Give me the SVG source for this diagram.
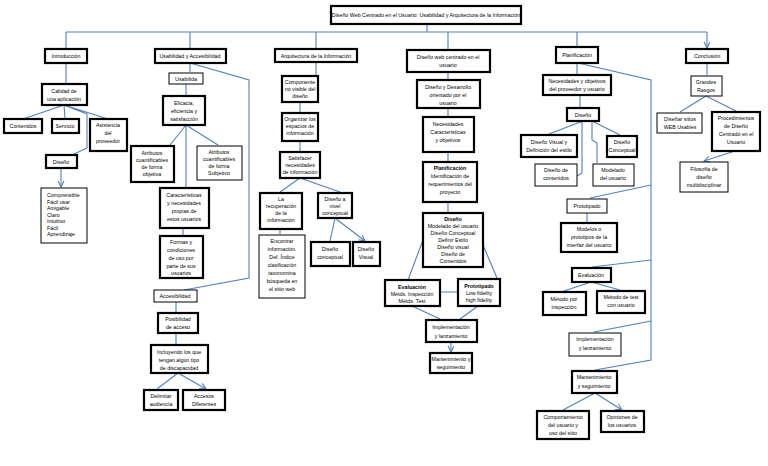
<svg xmlns="http://www.w3.org/2000/svg" width="768" height="466" viewBox="0 0 768 466">
<style>
.n{fill:#fff;stroke:#000;stroke-width:1}
.k{fill:#fff;stroke:#000;stroke-width:2.2}
text{font-family:"Liberation Sans",Arial,sans-serif;font-size:5.3px;fill:#000;text-anchor:middle}
.b{font-weight:bold}
.lf{text-anchor:start}
#c path{fill:none;stroke:#4f81bd;stroke-width:1.1}
</style>
<defs><marker id="a" markerWidth="8" markerHeight="8" refX="7" refY="4" orient="auto" markerUnits="userSpaceOnUse"><path d="M1,1 L7,4 L1,7" fill="none" stroke="#4f81bd" stroke-width="1.1"/></marker></defs>
<rect width="768" height="466" fill="#fff"/>
<g id="c">
<path d="M427,24 V32 M66,32 H707"/>
<path marker-end="url(#a)" d="M66,32V48 M190,32V48 M316,32V48 M448,32V49 M577,32V46 M707,32V48"/>
<path marker-end="url(#a)" d="M66,63V83 M64,105L23,119 M64,105L65,118 M64,105L108,119 M64,105L87,114V148L72,155 M61,168V187"/>
<path marker-end="url(#a)" d="M190,63V72 M186,84V95 M186,125L170,145 M186,125V187 M186,125L218,145 M183,228V235 M190,63L249,80V278L184,290 M176,302V312 M176,333V344 M178,373L157,389 M178,373L206,389"/>
<path marker-end="url(#a)" d="M316,62V75 M300,102V112 M300,141V151 M300,178L280,192 M300,178L340,192 M280,229V234 M335,218L330,241 M335,218L365,241"/>
<path marker-end="url(#a)" d="M448,72V79 M448,108V116 M448,152V161 M448,202V212 M483,245L497,278 M458,292H441 M408,280L423,240 M412,306L440,319 M478,306L460,319 M451,342V352"/>
<path marker-end="url(#a)" d="M577,63V74 M580,95V107 M583,121L549,134 M592,121L620,135 M582,121V173L577,176 M592,121V140L597,143V163 M578,63L651,80V360L595,370 M651,185L590,198 M651,260L592,267 M651,321L594,332 M587,213V222 M591,282L564,291 M591,282L620,290 M595,393L563,410 M595,393L622,410"/>
<path marker-end="url(#a)" d="M707,63V75 M706,96L680,112 M706,96L736,111 M735,151L704,161"/>
</g>
<g id="title"><rect class="k" x="331" y="6" width="190" height="18"/><text x="426" y="17">Diseño Web Centrado en el Usuario: Usabilidad y Arquitectura de la Información</text></g>
<g id="intro"><rect class="k" x="45" y="49" width="42" height="14"/><text x="66" y="58">Introducción</text></g>
<g id="calidad"><rect class="k" x="42" y="84" width="45" height="21"/><text x="64" y="93">Calidad de</text><text x="64" y="101">una aplicación</text></g>
<g id="contenidos"><rect class="k" x="4" y="119" width="38" height="14"/><text x="23" y="128">Contenidos</text></g>
<g id="servicio"><rect class="k" x="52" y="119" width="27" height="14"/><text x="65" y="128">Servicio</text></g>
<g id="asistencia"><rect class="k" x="90" y="119" width="37" height="32"/><text x="108" y="127">Asistencia</text><text x="108" y="135">del</text><text x="108" y="143">proveedor</text></g>
<g id="diseno1"><rect class="k" x="46" y="155" width="31" height="13"/><text x="61" y="164">Diseño</text></g>
<g id="lista"><rect class="n" x="41" y="188" width="46" height="55"/><text class="lf" x="47" y="197">Comprensible</text><text class="lf" x="47" y="203.5">Fácil usar</text><text class="lf" x="47" y="210">Amigable</text><text class="lf" x="47" y="216.5">Claro</text><text class="lf" x="47" y="223">Intuitivo</text><text class="lf" x="47" y="229.5">Fácil</text><text class="lf" x="47" y="236">Aprendizaje</text></g>
<g id="uya"><rect class="k" x="155" y="49" width="71" height="14"/><text x="190" y="58">Usabilidad y Accesibilidad</text></g>
<g id="usabilida"><rect class="n" x="169" y="73" width="34" height="11"/><text x="186" y="80.5">Usabilida</text></g>
<g id="eficacia"><rect class="k" x="163" y="96" width="42" height="29"/><text x="184" y="105">Eficacia,</text><text x="184" y="113">eficiencia y</text><text x="184" y="121">satisfacción</text></g>
<g id="atobj"><rect class="k" x="131" y="146" width="43" height="36"/><text x="152" y="155">Atributos</text><text x="152" y="162">cuantificables</text><text x="152" y="169">de forma</text><text x="152" y="176">objetiva</text></g>
<g id="atsub"><rect class="n" x="197" y="146" width="45" height="34"/><text x="219" y="154">Atributos</text><text x="219" y="161">cuantificables</text><text x="219" y="168">de forma</text><text x="219" y="175">Subjetivo</text></g>
<g id="caract"><rect class="k" x="160" y="188" width="49" height="40"/><text x="184" y="197">Características</text><text x="184" y="205">y necesidades</text><text x="184" y="213">propias de</text><text x="184" y="221">estos usuarios</text></g>
<g id="formas"><rect class="k" x="160" y="236" width="43" height="42"/><text x="181" y="244">Formas y</text><text x="181" y="252">condiciones</text><text x="181" y="260">de uso por</text><text x="181" y="268">parte de sus</text><text x="181" y="275">usuarios</text></g>
<g id="accesib"><rect class="n" x="154" y="290" width="43" height="12"/><text x="175" y="298">Accesibilidad</text></g>
<g id="posib"><rect class="k" x="158" y="313" width="40" height="20"/><text x="178" y="321">Posibilidad</text><text x="178" y="329">de acceso</text></g>
<g id="incluy"><rect class="k" x="151" y="345" width="57" height="28"/><text x="179" y="354">Incluyendo los que</text><text x="179" y="362">tengan algún tipo</text><text x="179" y="370">de discapacidad</text></g>
<g id="delim"><rect class="k" x="144" y="390" width="34" height="20"/><text x="161" y="398">Delimitar</text><text x="161" y="406">audiencia</text></g>
<g id="accesos"><rect class="k" x="183" y="390" width="42" height="20"/><text x="204" y="398">Accesos</text><text x="204" y="406">Diferentes</text></g>
<g id="arq"><rect class="k" x="275" y="49" width="82" height="13"/><text x="316" y="57.5">Arquitectura de la Información</text></g>
<g id="comp"><rect class="k" x="282" y="76" width="36" height="26"/><text x="300" y="84">Componente</text><text x="300" y="91">no visible del</text><text x="300" y="98">diseño</text></g>
<g id="org"><rect class="k" x="282" y="113" width="36" height="28"/><text x="300" y="121">Organizar los</text><text x="300" y="128">espacios de</text><text x="300" y="135">información</text></g>
<g id="satis"><rect class="k" x="280" y="152" width="40" height="26"/><text x="300" y="160">Satisfacer</text><text x="300" y="167">necesidades</text><text x="300" y="174">de información</text></g>
<g id="recup"><rect class="k" x="260" y="193" width="42" height="36"/><text x="281" y="201">La</text><text x="281" y="208">recuperación</text><text x="281" y="215">de la</text><text x="281" y="222">información</text></g>
<g id="nivel"><rect class="k" x="318" y="193" width="34" height="25"/><text x="335" y="201">Diseño a</text><text x="335" y="208">nivel</text><text x="335" y="215">conceptual</text></g>
<g id="encontrar"><rect class="n" x="259" y="235" width="46" height="63"/><text x="282" y="243">Encontrar</text><text x="282" y="251">información.</text><text x="282" y="259">Def. Índice</text><text x="282" y="267">clasificación</text><text x="282" y="275">taxonomina</text><text x="282" y="283">búsqueda en</text><text x="282" y="291">el sitio web</text></g>
<g id="dconc"><rect class="k" x="311" y="242" width="39" height="24"/><text x="330" y="251">Diseño</text><text x="330" y="259">conceptual</text></g>
<g id="dvis"><rect class="k" x="353" y="242" width="27" height="24"/><text x="366" y="251">Diseño</text><text x="366" y="259">Visual</text></g>
<g id="dwcu"><rect class="k" x="407" y="50" width="83" height="22"/><text x="448" y="59">Diseño web centrado en el</text><text x="448" y="67">usuario</text></g>
<g id="dyd"><rect class="k" x="417" y="80" width="63" height="28"/><text x="448" y="89">Diseño y Desarrollo</text><text x="448" y="97">orientado por el</text><text x="448" y="105">usuario</text></g>
<g id="necc"><rect class="k" x="423" y="117" width="51" height="35"/><text x="448" y="126">Necesidades</text><text x="448" y="134">Características</text><text x="448" y="142">y objetivos</text></g>
<g id="plan1"><rect class="k" x="423" y="162" width="54" height="40"/><text class="b" x="450" y="170">Planificación</text><text x="450" y="178">Identificación de</text><text x="450" y="186">requerimientos del</text><text x="450" y="194">proyecto</text></g>
<g id="diseno2"><rect class="k" x="423" y="213" width="60" height="54"/><text class="b" x="453" y="221">Diseño</text><text x="453" y="228">Modelado del usuario</text><text x="453" y="235">Diseño Conceptual</text><text x="453" y="242">Definir Estilo</text><text x="453" y="249">Diseño visual</text><text x="453" y="256">Diseño de</text><text x="453" y="263">Contenidos</text></g>
<g id="eval1"><rect class="k" x="385" y="280" width="55" height="26"/><text class="b" x="412" y="289">Evaluación</text><text x="412" y="296">Métds. Inspección</text><text x="412" y="303">Métds. Test</text></g>
<g id="proto1"><rect class="k" x="458" y="279" width="42" height="27"/><text class="b" x="479" y="288">Prototipado</text><text x="479" y="295">Low fidelity</text><text x="479" y="302">high fidelity</text></g>
<g id="impl1"><rect class="k" x="426" y="320" width="51" height="22"/><text x="451" y="329">Implementación</text><text x="451" y="338">y lanzamiento</text></g>
<g id="mant1"><rect class="k" x="430" y="353" width="42" height="20"/><text x="451" y="361">Mantenimiento y</text><text x="451" y="369">seguimiento</text></g>
<g id="plan2"><rect class="k" x="556" y="47" width="42" height="16"/><text x="577" y="57">Planificación</text></g>
<g id="nec2"><rect class="k" x="543" y="75" width="68" height="20"/><text x="577" y="83">Necesidades y objetivos</text><text x="577" y="91">del proveedor y usuario</text></g>
<g id="diseno3"><rect class="k" x="567" y="108" width="32" height="13"/><text x="583" y="116.5">Diseño</text></g>
<g id="dvd"><rect class="k" x="521" y="135" width="56" height="22"/><text x="549" y="144">Diseño Visual y</text><text x="549" y="152">Definición del estilo</text></g>
<g id="dcon3"><rect class="k" x="607" y="136" width="30" height="21"/><text x="622" y="144">Diseño</text><text x="622" y="152">Conceptual</text></g>
<g id="dcont"><rect class="n" x="535" y="164" width="42" height="22"/><text x="556" y="172">Diseño de</text><text x="556" y="180">contenidos</text></g>
<g id="model"><rect class="n" x="593" y="164" width="41" height="22"/><text x="613" y="172">Modelado</text><text x="613" y="180">del usuario</text></g>
<g id="proto2"><rect class="n" x="567" y="199" width="40" height="14"/><text x="587" y="208">Prototipado</text></g>
<g id="modelos"><rect class="k" x="561" y="223" width="56" height="29"/><text x="589" y="231">Modelos o</text><text x="589" y="239">prototipos de la</text><text x="589" y="247">interfaz del usuario</text></g>
<g id="eval2"><rect class="k" x="572" y="268" width="39" height="14"/><text x="591" y="277">Evaluación</text></g>
<g id="minsp"><rect class="k" x="543" y="292" width="43" height="23"/><text x="564" y="301">Método por</text><text x="564" y="309">inspección</text></g>
<g id="mtest"><rect class="k" x="597" y="291" width="48" height="22"/><text x="621" y="299">Método de test</text><text x="621" y="307">con usuario</text></g>
<g id="impl2"><rect class="n" x="569" y="333" width="52" height="23"/><text x="595" y="341">Implementación</text><text x="595" y="350">y lanzamiento</text></g>
<g id="mant2"><rect class="k" x="572" y="371" width="45" height="22"/><text x="594" y="379">Mantenimiento</text><text x="594" y="388">y seguimiento</text></g>
<g id="comport"><rect class="k" x="537" y="411" width="52" height="28"/><text x="563" y="419">Comportamiento</text><text x="563" y="427">del usuario y</text><text x="563" y="435">uso del sitio</text></g>
<g id="opin"><rect class="k" x="601" y="411" width="43" height="21"/><text x="622" y="419">Opiniones de</text><text x="622" y="427">los usuarios</text></g>
<g id="concl"><rect class="k" x="686" y="49" width="42" height="14"/><text x="707" y="58">Conclusión</text></g>
<g id="rasgos"><rect class="n" x="691" y="76" width="31" height="20"/><text x="706" y="84">Grandes</text><text x="706" y="92">Rasgos</text></g>
<g id="disenar"><rect class="n" x="657" y="113" width="45" height="20"/><text x="680" y="121">Diseñar sitios</text><text x="680" y="129">WEB Usables</text></g>
<g id="proced"><rect class="k" x="712" y="112" width="48" height="39"/><text x="736" y="120">Procedimientos</text><text x="736" y="128">de Diseño</text><text x="736" y="136">Centrado en el</text><text x="736" y="144">Usuario</text></g>
<g id="filos"><rect class="n" x="680" y="162" width="48" height="30"/><text x="704" y="171">Filosofía de</text><text x="704" y="179">diseño</text><text x="704" y="187">multidisciplinar</text></g>
</svg>
